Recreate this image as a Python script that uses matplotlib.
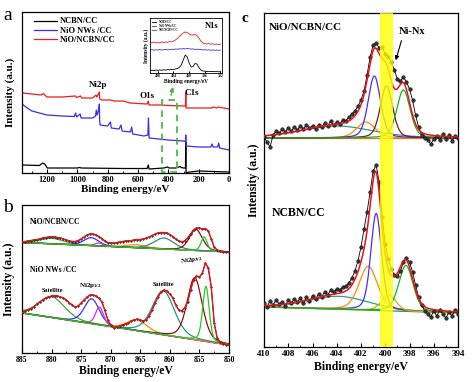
import matplotlib

matplotlib.use("Agg")

import matplotlib.pyplot as plt
from matplotlib.patches import Rectangle
from matplotlib.ticker import MultipleLocator
import numpy as np

# ---------------- panel a: survey spectra ----------------
RED_E = [1365, 1300, 1240, 1222, 1215, 1200, 1100, 1012, 1005, 980, 972, 900, 876, 871,
         860, 855, 852, 840, 780, 760, 700, 650, 600, 540, 532, 528, 450, 400, 300, 287,
         285, 283, 200, 112, 105, 80, 72, 0]
RED_I = [80, 79, 78, 79.5, 78, 76, 76, 77, 75.5, 77, 75, 75, 78, 76,
         79, 81, 74, 73, 73, 72, 72, 70, 69.5, 69, 72, 68, 68, 67.5, 67, 67,
         81, 65, 65, 65, 66, 65, 66, 64]

BLUE_E = [1365, 1330, 1300, 1250, 1200, 1100, 1020, 1012, 1005, 982, 975, 900, 880, 875,
          870, 863, 857, 855, 853, 850, 800, 782, 776, 725, 712, 705, 650, 642, 635, 560,
          535, 531, 527, 400, 300, 287, 285, 283, 200, 120, 112, 105, 75, 68, 62, 0]
BLUE_I = [69, 65, 62, 60, 58, 57, 56.5, 60, 56, 59, 55, 55, 57, 63,
          58, 61, 66, 69, 53, 48, 47, 51, 45, 44, 48, 42, 41, 46, 39, 37,
          38, 55, 35, 33, 32, 31.5, 38, 27, 26, 26, 29, 26, 26, 30, 25, 23]

BLACK_E = [1365, 1250, 1228, 1215, 1198, 1000, 985, 975, 700, 540, 532, 527, 430, 405,
           395, 350, 322, 315, 300, 287, 285, 283, 200, 0]
BLACK_I = [8, 7.5, 10, 9, 5, 5, 5.5, 5, 4.5, 4.5, 8, 4, 5, 6,
           5, 5, 6.5, 5.5, 5, 5, 31, 0.5, 2, 1]

SURVEY_LABELS = ["NCBN/CC", "NiO NWs /CC", "NiO/NCBN/CC"]

# inset: N1s region
INSET_E = np.arange(410, 391.9, -0.5)
INSET_RED = [30.5, 30, 31, 30.2, 30.8, 30, 31.2, 30.5, 31, 30.6,
             31.5, 31, 32, 33, 34.5, 36.5, 38.5, 40, 41, 40.5,
             39, 38, 38, 38.5, 37.5, 35, 32, 30, 29.5, 29,
             29.5, 28.8, 29.2, 28.6, 29, 28.5, 28.8]
INSET_BLUE = [23, 23.4, 22.8, 23.2, 23, 23.5, 22.9, 23.3, 23.6, 23.1,
              23.4, 23.8, 23.5, 24, 23.7, 24.2, 24, 24.4, 24.1, 24.5,
              24.2, 23.9, 24.1, 23.6, 23.8, 23.4, 23.5, 23.1, 23.3, 22.9,
              23.2, 22.8, 23, 22.7, 23, 22.6, 22.9]
INSET_BLACK = [2.5, 2.8, 2.4, 3, 2.6, 3.1, 2.7, 3.2, 2.9, 3.4,
               3.1, 3.6, 3.5, 4, 4.5, 5.5, 8, 13, 18, 16,
               10, 6, 6.5, 9.5, 9, 5.5, 3, 2, 1.8, 1.5,
               1.7, 1.4, 1.6, 1.3, 1.5, 1.2, 1.4]

# ---------------- panel b: Ni 2p ----------------
B_E = np.arange(885, 849.9, -0.5)
B_TOP = [111, 111.5, 112, 112.5, 113, 113.5, 114, 115, 115.5, 116,
         116, 116, 115.5, 115, 114, 113, 112, 111.5, 111.5, 112.5,
         114, 116, 118, 119, 119, 118, 116.5, 114.5, 112, 110.5,
         110, 110, 110.5, 111, 111.5, 112, 112, 112.5, 113, 113.5,
         113.5, 114, 115, 116, 117.5, 119, 120, 120.5, 120.5, 120,
         118.5, 116.5, 114, 112, 111, 112, 115, 119, 123, 125,
         125, 124, 124.5, 122, 114, 106, 103, 102, 101.5, 101,
         101]
B_BOT = [40, 42, 43, 44, 46, 49, 51, 53, 55, 56,
         57, 57.5, 57, 56, 55, 53, 50, 48, 46, 47,
         50, 53, 56, 58, 58, 57, 55, 51, 43, 33,
         28, 25, 26, 27, 28, 29, 30, 32, 33, 34,
         33, 32, 33, 37, 43, 50, 56, 61, 63, 62,
         59, 55, 48, 43, 42, 45, 51, 63, 73, 77,
         76, 80, 90, 85, 66, 30, 15, 11, 9.5, 8.5,
         8]
B_TOP_BG = (110.5, 101)   # background at 885 and 850 eV
B_BOT_BG = (40, 8)
# fitted components: centre (eV), height, fwhm, colour
B_TOP_PEAKS = [(880.0, 5.5, 5.0, "#3aa83a"), (873.3, 8, 3.0, "#3333ff"),
               (872.0, 3, 1.6, "#cc33dd"), (865.8, 3, 4.0, "#ff8c00"),
               (861.0, 11, 4.0, "#2f8f83"), (855.6, 21, 2.6, "#8b1010"),
               (854.2, 14, 1.2, "#22cc22")]
B_BOT_PEAKS = [(880.0, 21, 5.2, "#3aa83a"), (873.2, 25, 3.0, "#3333ff"),
               (871.9, 18, 1.6, "#cc33dd"), (865.6, 11, 4.0, "#ff8c00"),
               (861.1, 44, 4.4, "#2f8f83"), (855.8, 62, 3.0, "#8b1010"),
               (853.9, 55, 1.3, "#22cc22")]

# ---------------- panel c: N 1s ----------------
C_E = np.arange(410, 393.9, -0.25)
C_TOP = [210, 205, 200, 212, 216, 214, 218, 215, 219, 216,
         220, 217, 221, 218, 222, 219, 221, 218, 222, 220,
         224, 221, 226, 222, 225, 223, 227, 226, 230, 233,
         236, 241, 247, 256, 272, 290, 302, 304, 299, 300,
         293, 290, 285, 277, 268, 266, 270, 265, 258, 247,
         232, 220, 212, 209, 207, 203, 208, 211, 207, 213,
         208, 212, 206, 211, 209]
C_BOT = [44, 40, 46, 42, 47, 43, 45, 41, 47, 44,
         48, 45, 49, 44, 50, 46, 51, 48, 53, 50,
         55, 52, 57, 55, 58, 57, 60, 61, 64, 69,
         76, 86, 100, 118, 135, 155, 176, 182, 165, 130,
         103, 88, 78, 72, 71, 76, 85, 89, 85, 75,
         62, 50, 42, 36, 33, 30, 36, 31, 37, 33,
         29, 35, 31, 37, 33]
C_TOP_BG = (209, 209)
C_BOT_BG = (40, 34)
C_TOP_PEAKS = [(404.0, 12, 7.0, "#2f9c8c"), (401.6, 16, 1.8, "#ff8c00"),
               (400.9, 62, 1.2, "#4b2cff"), (399.9, 52, 1.2, "#7a1c1c"),
               (398.5, 48, 1.3, "#22aa22")]
C_BOT_PEAKS = [(403.8, 13, 6.0, "#2f9c8c"), (401.4, 44, 1.8, "#ff8c00"),
               (400.75, 97, 1.05, "#4b2cff"), (399.7, 16, 1.4, "#c8b400"),
               (398.3, 46, 1.4, "#22aa22")]

plt.rcParams.update({
    "font.family": ["Liberation Serif", "DejaVu Serif"],
    "font.weight": "bold",
    "axes.labelweight": "bold",
    "mathtext.fontset": "stix",
    "axes.linewidth": 0.9,
})


def pvoigt(x, centre, height, fwhm, eta=0.3):
    sigma = fwhm / 2.3548
    gauss = np.exp(-((x - centre) ** 2) / (2 * sigma ** 2))
    lorentz = 1.0 / (1.0 + ((x - centre) / (fwhm / 2)) ** 2)
    return height * ((1 - eta) * gauss + eta * lorentz)


def style_axis(ax, major, minor, size):
    ax.xaxis.set_major_locator(MultipleLocator(major))
    ax.xaxis.set_minor_locator(MultipleLocator(minor))
    ax.set_yticks([])
    ax.tick_params(axis="x", which="both", direction="in", top=False, pad=2,
                   labelsize=size)
    ax.tick_params(axis="x", which="major", length=3)
    ax.tick_params(axis="x", which="minor", length=1.8)
    for lab in ax.get_xticklabels():
        lab.set_fontweight("bold")


def fit_panel(ax, x, data, bg, peaks, bg_color, dense, fit_from_data):
    xs = np.linspace(x[0], x[-1], 600)
    base = np.linspace(bg[0], bg[1], len(xs))
    ax.plot(xs, base, color=bg_color, lw=0.9, zorder=2)
    total = base.copy()
    for centre, height, fwhm, color in peaks:
        comp = pvoigt(xs, centre, height, fwhm)
        total += comp
        ax.plot(xs, base + comp, color=color, lw=0.9, zorder=2)
    ax.plot(x, data, color="black", lw=0.6, marker="o", ms=dense,
            mfc="#333333", mec="black", mew=0.3, zorder=3)
    if fit_from_data:
        ax.plot(x, data, color="#e8121a", lw=1.0, zorder=4)
    else:
        ax.plot(xs, total, color="#e8121a", lw=1.1, zorder=4)


fig = plt.figure(figsize=(4.74, 3.82), dpi=100)

# ---- a ----
ax_a = fig.add_axes([22 / 474, 1 - 173 / 382, 207 / 474, 161 / 382])
ax_a.plot(BLACK_E, BLACK_I, color="black", lw=0.9, label=SURVEY_LABELS[0])
ax_a.plot(BLUE_E, BLUE_I, color="#3b2cf0", lw=0.9, label=SURVEY_LABELS[1])
ax_a.plot(RED_E, RED_I, color="#ee1c1c", lw=0.9, label=SURVEY_LABELS[2])
ax_a.set_xlim(1365, 0)
ax_a.set_ylim(0, 161)
style_axis(ax_a, 200, 100, 6)
ax_a.set_xlabel("Binding energy/eV", fontsize=8, labelpad=1)
ax_a.set_ylabel("Intensity (a.u.)", fontsize=8, labelpad=5)
leg = ax_a.legend(loc="upper left", bbox_to_anchor=(0.03, 1.0), frameon=False,
                  fontsize=6, handlelength=2.8, labelspacing=0.15,
                  handletextpad=0.4, borderaxespad=0.25)
for t in leg.get_texts():
    t.set_fontweight("bold")
ax_a.text(864, 84, "Ni2p", fontsize=6.5, ha="center", va="bottom")
ax_a.text(541, 73, "O1s", fontsize=6.5, ha="center", va="bottom")
ax_a.text(244, 76, "C1s", fontsize=6.5, ha="center", va="bottom")
ax_a.add_patch(Rectangle((345, 1), 95, 72, fill=False, ec="#3cb83c", lw=1.2,
                         ls=(0, (4, 3)), zorder=5))
ax_a.annotate("", xy=(365, 89), xytext=(385, 75),
              arrowprops=dict(arrowstyle="-|>", color="#3cb83c", lw=1.0,
                              ls="--", mutation_scale=6))

ax_in = fig.add_axes([150 / 474, 1 - 73 / 382, 72 / 474, 55 / 382])
ax_in.plot(INSET_E, INSET_BLACK, color="black", lw=0.6, label="NCBN/CC")
ax_in.plot(INSET_E, INSET_BLUE, color="#3b2cf0", lw=0.6, label="NiO NWs/CC")
ax_in.plot(INSET_E, INSET_RED, color="#ee1c1c", lw=0.6, label="NiO/NCBN/CC")
ax_in.set_xlim(410, 391.6)
ax_in.set_ylim(0, 55)
ax_in.set_xticks([408, 404, 400, 396, 392])
ax_in.set_yticks([])
ax_in.tick_params(axis="x", direction="in", length=1.5, labelsize=2.8, pad=1)
ax_in.set_xlabel("Binding energy/eV", fontsize=4, labelpad=0.5)
ax_in.set_ylabel("Intensity (a.u.)", fontsize=4, labelpad=1)
for s in ax_in.spines.values():
    s.set_linewidth(0.6)
ax_in.legend(loc="upper left", frameon=False, fontsize=2.2, handlelength=1.5,
             labelspacing=0.1, borderaxespad=0.2)
ax_in.text(0.95, 0.92, "N1s", transform=ax_in.transAxes, fontsize=6,
           ha="right", va="top")

# ---- b ----
ax_b = fig.add_axes([22 / 474, 1 - 353 / 382, 207 / 474, 148 / 382])
fit_panel(ax_b, B_E, B_TOP, B_TOP_BG, B_TOP_PEAKS, "#7ee030", 1.2, True)
fit_panel(ax_b, B_E, B_BOT, B_BOT_BG, B_BOT_PEAKS, "#c040e8", 1.2, True)
ax_b.set_xlim(885, 850)
ax_b.set_ylim(0, 148)
style_axis(ax_b, 5, 2.5, 5.5)
ax_b.set_xlabel("Binding energy/eV", fontsize=8.5, labelpad=1)
ax_b.set_ylabel("Intensity (a.u.)", fontsize=8.5, labelpad=5)
ax_b.text(883.6, 131, "NiO/NCBN/CC", fontsize=5.5, ha="left", va="center")
ax_b.text(883.6, 83, "NiO NWs /CC", fontsize=5.5, ha="left", va="center")
ax_b.text(879.8, 63, "Satellite", fontsize=4.5, ha="center", va="center")
ax_b.text(861.1, 68, "Satellite", fontsize=4.5, ha="center", va="center")
ax_b.text(873.5, 68, "Ni2p$_{1/2}$", fontsize=5, ha="center", va="center")
ax_b.text(856.3, 93, "Ni2p$_{3/2}$", fontsize=5, ha="center", va="center",
          rotation=8)

# ---- c ----
ax_c = fig.add_axes([264 / 474, 1 - 347 / 382, 194 / 474, 334 / 382])
fit_panel(ax_c, C_E, C_TOP, C_TOP_BG, C_TOP_PEAKS, "#e07a20", 2.6, False)
fit_panel(ax_c, C_E, C_BOT, C_BOT_BG, C_BOT_PEAKS, "#22aa22", 2.6, False)
ax_c.axvspan(400.4, 399.4, color="#ffff00", alpha=0.8, lw=0, zorder=6)
ax_c.set_xlim(410, 394)
ax_c.set_ylim(0, 334)
style_axis(ax_c, 2, 1, 6.5)
ax_c.set_xlabel("Binding energy/eV", fontsize=8.5, labelpad=2)
ax_c.set_ylabel("Intensity (a.u.)", fontsize=8.5, labelpad=3)
ax_c.text(409.6, 319, "NiO/NCBN/CC", fontsize=8, ha="left", va="center")
ax_c.text(409.4, 134, "NCBN/CC", fontsize=8.5, ha="left", va="center")
ax_c.text(397.8, 315, "Ni-Nx", fontsize=7.5, ha="center", va="center")
ax_c.annotate("", xy=(399.2, 284), xytext=(398.6, 309),
              arrowprops=dict(arrowstyle="-|>", color="black", lw=0.8,
                              mutation_scale=6))

fig.text(8 / 474, 1 - 15 / 382, "a", fontsize=14, ha="center", va="center",
         fontweight="normal")
fig.text(8 / 474, 1 - 208 / 382, "b", fontsize=14, ha="center", va="center",
         fontweight="normal")
fig.text(245 / 474, 1 - 18 / 382, "c", fontsize=11, ha="center", va="center")

fig.savefig("out.png", dpi=100)
